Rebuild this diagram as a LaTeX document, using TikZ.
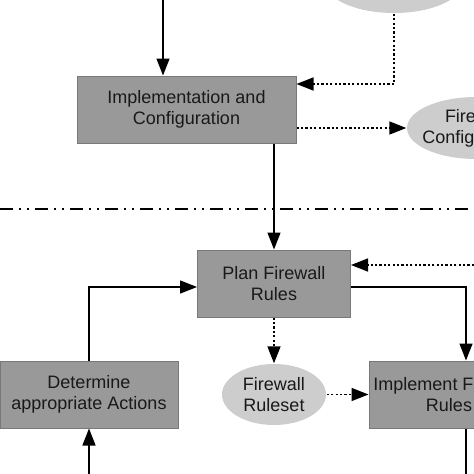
\documentclass[tikz,border=0pt]{standalone}
\usepackage{fontspec}
\setmainfont{Liberation Sans}
\usetikzlibrary{arrows.meta,shapes.geometric}
\definecolor{boxgray}{RGB}{153,153,153}
\definecolor{boxline}{RGB}{120,120,120}
\definecolor{ellgray}{RGB}{205,205,205}
\definecolor{txtgray}{RGB}{25,25,25}

\begin{document}
\begin{tikzpicture}[x=1pt,y=-1pt,>={Triangle[length=17pt,width=13pt]},line width=1.4pt,
    task node/.style={rectangle,draw=boxline,line width=1pt,fill=boxgray,minimum height=67pt,inner sep=0pt,align=center,text=txtgray,font=\fontsize{18}{21}\selectfont},
    data node/.style={ellipse,fill=ellgray,minimum width=138pt,minimum height=62pt,inner sep=0pt,align=center,text=txtgray,font=\fontsize{18}{21}\selectfont},
    dots/.style={dash pattern=on 2.2pt off 2.2pt,line width=1.6pt},
    sep line/.style={dash pattern=on 13pt off 6pt on 2pt off 6pt on 2pt off 6pt,line width=1.2pt}]
    \useasboundingbox (0,0) rectangle (474,474);
    \clip (0,0) rectangle (474,474);

    \node[data node] (conf) at (394,-18) {};
    \node[task node,minimum width=219pt] (impl) at (186.5,109.5) {Implementation and\\Configuration};
    \node[data node,inner xsep=-8pt] (fwconf) at (476,128) {Firewall\\Configuration};
    \node[task node,minimum width=153pt] (plan) at (274,283.5) {Plan Firewall\\Rules};
    \node[task node,minimum width=178pt] (determine) at (89,394.5) {Determine\\appropriate Actions};
    \node[data node,minimum width=104pt,minimum height=61pt] (ruleset) at (274,394.5) {Firewall\\Ruleset};
    \node[task node,minimum width=160pt] (implrules) at (449,394.5) {Implement Firewall\\Rules};

    % free ends at the border
    \coordinate (intop) at (163,0);
    \coordinate (inright) at (474,265);
    \coordinate (inbottom) at (89,474);
    \coordinate (outbottom) at (466,474);
    \coordinate (sepL) at (0,209);
    \coordinate (sepR) at (474,209);

    \draw[sep line] (sepL) -- (sepR);

    \draw[->] (intop) -- (intop |- impl.north);
    \draw[->,dots] (conf.south) |- ([yshift=25.5pt]impl.east);
    \draw[->,dots] ([yshift=-18.5pt]impl.east) -- (fwconf.west);
    \draw[->] (impl.south -| plan.north) -- (plan.north);
    \draw[->,dots] (inright) -- (inright -| plan.east);
    \draw[->] ([yshift=-3.5pt]plan.east) -| ([xshift=17pt]implrules.north);
    \draw[->] (determine.north) |- ([yshift=-3.5pt]plan.west);
    \draw[->,dots] (plan.south) -- (ruleset.north);
    \draw[->,dots] (ruleset.east) -- (implrules.west);
    \draw[->] (inbottom) -- (determine.south);
    \draw ([xshift=17pt]implrules.south) -- (outbottom);
\end{tikzpicture}
\end{document}
